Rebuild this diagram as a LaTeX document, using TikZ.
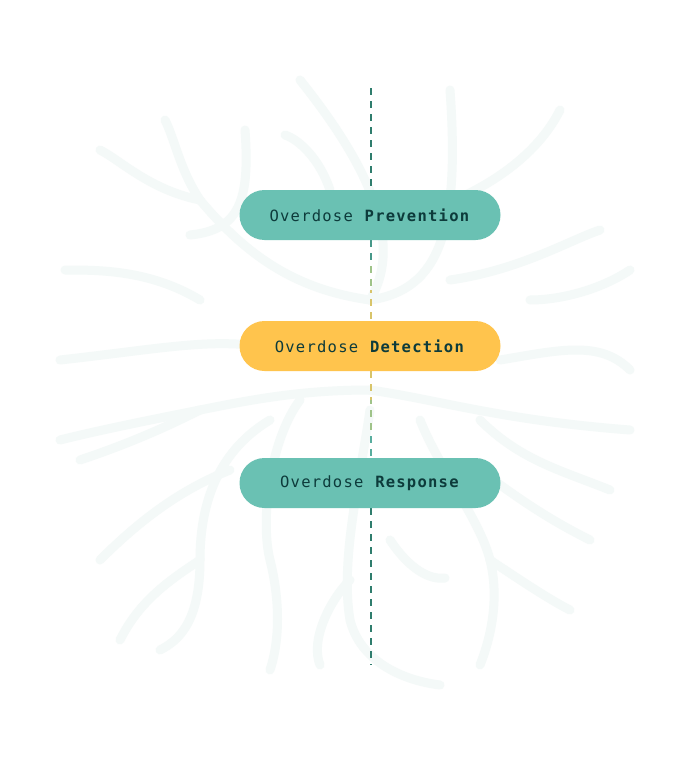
\documentclass[tikz,border=0pt]{standalone}
\usepackage{fontspec}
\setmonofont{DejaVu Sans Mono}[LetterSpace=8]
\begin{document}
\begin{tikzpicture}[x=1pt,y=-1pt,
  root/.style={draw=rootc,line width=9pt,line cap=round,line join=round},
  pill/.style={rounded corners=25pt,minimum width=261pt,minimum height=50pt,inner sep=0pt,font=\ttfamily\fontsize{15.5}{17}\selectfont,text=txt},
  dl/.style={line width=1.3pt,dash pattern=on 7pt off 6pt}]
\definecolor{rootc}{HTML}{F4F9F8}
\definecolor{teal}{HTML}{6AC1B3}
\definecolor{yel}{HTML}{FFC44D}
\definecolor{txt}{HTML}{0D3B3B}
\definecolor{dk}{HTML}{2F7D6D}
\definecolor{mid}{HTML}{9FC389}
\definecolor{lyel}{HTML}{D8C46A}
\fill[white] (0,0) rectangle (684,768);
\useasboundingbox (0,0) rectangle (684,768);
% faint roots
\draw[root] (370,300) .. controls (300,290) and (250,260) .. (200,200) .. controls (180,170) and (175,140) .. (165,120);
\draw[root] (200,200) .. controls (150,190) and (120,160) .. (100,150);
\draw[root] (370,300) .. controls (400,250) and (380,180) .. (300,80);
\draw[root] (330,190) .. controls (320,160) and (300,140) .. (285,135);
\draw[root] (245,130) .. controls (250,200) and (240,230) .. (190,235);
\draw[root] (370,300) .. controls (440,290) and (460,230) .. (450,90);
\draw[root] (455,200) .. controls (500,180) and (540,150) .. (560,110);
\draw[root] (450,280) .. controls (520,270) and (570,240) .. (600,230);
\draw[root] (530,300) .. controls (560,300) and (600,290) .. (630,270);
\draw[root] (370,390) .. controls (300,390) and (250,400) .. (200,410) .. controls (150,420) and (100,430) .. (60,440);
\draw[root] (250,345) .. controls (200,340) and (150,350) .. (60,360);
\draw[root] (200,300) .. controls (150,270) and (100,270) .. (65,270);
\draw[root] (200,410) .. controls (180,420) and (140,440) .. (80,460);
\draw[root] (370,390) .. controls (440,400) and (500,420) .. (630,430);
\draw[root] (500,360) .. controls (560,350) and (600,340) .. (630,370);
\draw[root] (480,420) .. controls (520,460) and (560,470) .. (610,490);
\draw[root] (300,400) .. controls (270,440) and (260,520) .. (270,560) .. controls (280,600) and (280,640) .. (270,670);
\draw[root] (270,420) .. controls (220,450) and (200,500) .. (200,560) .. controls (200,620) and (180,640) .. (160,650);
\draw[root] (230,470) .. controls (180,490) and (140,520) .. (100,560);
\draw[root] (200,560) .. controls (170,580) and (140,600) .. (120,640);
\draw[root] (370,410) .. controls (360,480) and (340,560) .. (350,620) .. controls (360,660) and (400,680) .. (440,685);
\draw[root] (350,580) .. controls (330,600) and (310,640) .. (320,665);
\draw[root] (420,420) .. controls (440,470) and (480,520) .. (490,560) .. controls (500,600) and (490,640) .. (480,665);
\draw[root] (390,540) .. controls (410,570) and (430,580) .. (445,578);
\draw[root] (490,560) .. controls (520,580) and (550,600) .. (570,610);
\draw[root] (480,470) .. controls (520,500) and (550,520) .. (590,540);
% dashed spine
\draw[dl,dk] (371,88) -- (371,190);
\draw[dl,dk!60!teal] (371,240) -- (371,260);
\draw[dl,mid,dash phase=7pt] (371,260) -- (371,290);
\draw[dl,lyel,dash phase=4pt] (371,290) -- (371,321);
\draw[dl,lyel] (371,371) -- (371,400);
\draw[dl,mid,dash phase=3pt] (371,400) -- (371,430);
\draw[dl,teal!70!dk,dash phase=7pt] (371,430) -- (371,458);
\draw[dl,dk] (371,508) -- (371,665);
% pills
\node[pill,fill=teal] (p) at (370,215) {Overdose \textbf{Prevention}};
\node[pill,fill=yel] (d) at (370,346) {Overdose \textbf{Detection}};
\node[pill,fill=teal] (r) at (370,483) {Overdose \textbf{Response}};
\end{tikzpicture}
\end{document}
